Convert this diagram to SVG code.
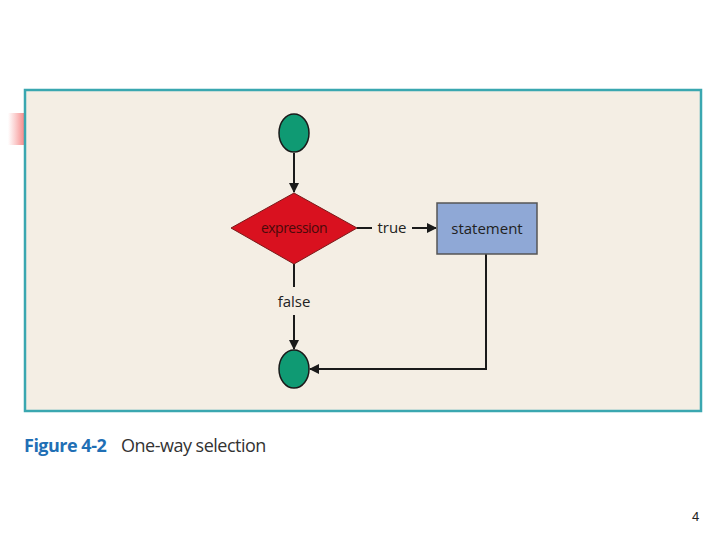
<svg xmlns="http://www.w3.org/2000/svg" width="720" height="540" viewBox="0 0 720 540">
<style>
.ln{stroke:#1a1a1a;stroke-width:2;fill:none}
.lbl{font-family:"Open Sans","Liberation Sans",sans-serif;font-size:15px;fill:#222}
.term{fill:#0f9a73;stroke:#1a1a1a;stroke-width:1.5}
</style>
<defs>
<marker id="ah" markerWidth="10" markerHeight="10" refX="9" refY="5" orient="auto" markerUnits="userSpaceOnUse"><path d="M0,0 L10,5 L0,10 Z" fill="#1a1a1a"/></marker>
<linearGradient id="fade" x1="0" y1="0" x2="1" y2="0"><stop offset="0" stop-color="#f47070" stop-opacity="0"/><stop offset="1" stop-color="#f25a5a" stop-opacity="0.8"/></linearGradient>
</defs>
<rect width="720" height="540" fill="#fff"/>
<rect x="8" y="113" width="18" height="32" fill="url(#fade)"/>
<rect x="25" y="90" width="676" height="321" fill="#f4eee4" stroke="#3aa7b0" stroke-width="2.5"/>
<g id="connectors">
<line class="ln" x1="294" y1="153" x2="294" y2="192" marker-end="url(#ah)"/>
<line class="ln" x1="357" y1="228" x2="372" y2="228"/>
<line class="ln" x1="412" y1="228" x2="436" y2="228" marker-end="url(#ah)"/>
<line class="ln" x1="294" y1="264" x2="294" y2="287"/>
<line class="ln" x1="294" y1="315" x2="294" y2="349" marker-end="url(#ah)"/>
<polyline class="ln" points="486,254 486,369 310,369" marker-end="url(#ah)"/>
</g>
<g id="start"><ellipse class="term" cx="294" cy="133" rx="15" ry="19"/></g>
<g id="expression"><polygon points="294,193 357,228 294,264 231,228" fill="#d9111f" stroke="#7a1a1a" stroke-width="1"/>
<text x="294" y="233" text-anchor="middle" font-family="Open Sans,Liberation Sans,sans-serif" font-size="14" fill="#4a0a0a" letter-spacing="-0.5">expression</text></g>
<g id="statement"><rect x="437" y="203" width="100" height="51" fill="#8fa8d6" stroke="#555" stroke-width="1.5"/>
<text x="487" y="234" text-anchor="middle" class="lbl">statement</text></g>
<g id="end"><ellipse class="term" cx="294" cy="369" rx="15" ry="19"/></g>
<text x="392" y="233" text-anchor="middle" class="lbl">true</text>
<text x="294" y="307" text-anchor="middle" class="lbl">false</text>
<text x="24" y="452" font-family="Open Sans,Liberation Sans,sans-serif" font-size="18" font-weight="bold" fill="#1f6fb5" letter-spacing="-0.5">Figure 4-2</text>
<text x="121" y="452" font-family="Open Sans,Liberation Sans,sans-serif" font-size="18" fill="#333" letter-spacing="-0.5">One-way selection</text>
<text x="692" y="521" font-family="Liberation Sans,sans-serif" font-size="13" fill="#222">4</text>
</svg>
